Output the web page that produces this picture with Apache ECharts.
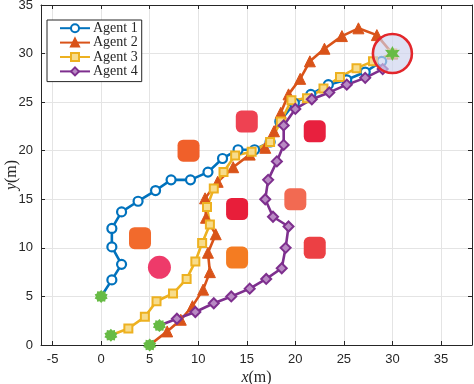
<!DOCTYPE html>
<html><head><meta charset="utf-8">
<script src="https://cdn.jsdelivr.net/npm/echarts@6/dist/echarts.min.js"></script>
<style>html,body{margin:0;padding:0;background:#fff}#c{width:474px;height:384px}</style>
</head><body><div id="c"></div>
<script>
// ---- data ----
const agent1X = [0, 1.1, 2.1, 1.1, 1.1, 2.1, 3.8, 5.6, 7.2, 9.2, 11.0, 12.5, 14.1, 15.8, 17.4, 18.4, 19.9, 21.6, 23.4, 25.3, 27.2, 28.9];
const agent1Y = [5, 6.7, 8.3, 10.1, 12.0, 13.7, 14.8, 15.9, 17.0, 17.0, 17.8, 19.2, 20.1, 20.1, 20.9, 23.0, 24.9, 25.8, 26.8, 27.3, 28.1, 29.2];
const agent2X = [5, 6.8, 8.2, 9.4, 10.5, 11.2, 11.0, 11.8, 10.8, 10.7, 12.0, 13.6, 15.3, 16.9, 17.8, 18.5, 19.3, 20.5, 21.5, 23.0, 24.8, 26.5, 28.4, 30];
const agent2Y = [0, 1.4, 2.6, 4.0, 5.7, 7.5, 9.5, 11.4, 13.1, 15.1, 16.8, 18.3, 19.6, 20.3, 22.0, 23.9, 25.8, 27.4, 29.2, 30.5, 31.8, 32.6, 31.9, 30];
const agent3X = [1, 2.8, 4.5, 5.7, 7.4, 8.8, 9.7, 10.4, 11.2, 10.9, 11.6, 12.6, 13.8, 15.5, 17.4, 18.5, 19.6, 21.2, 22.9, 24.6, 26.3, 28.0, 30];
const agent3Y = [1, 1.7, 2.9, 4.5, 5.3, 6.8, 8.6, 10.5, 12.4, 14.2, 16.1, 17.8, 19.5, 19.9, 20.9, 23.0, 25.2, 25.4, 26.4, 27.6, 28.5, 29.2, 30];
const agent4X = [6, 7.8, 9.7, 11.6, 13.4, 15.3, 17.0, 18.6, 19.0, 19.3, 17.7, 16.9, 17.2, 18.1, 18.8, 18.8, 20.0, 21.7, 23.5, 25.3, 27.2, 29.0];
const agent4Y = [2, 2.7, 3.4, 4.3, 5.0, 5.8, 6.8, 7.9, 10.0, 12.2, 13.2, 15.0, 17.0, 18.9, 20.6, 22.6, 24.3, 25.3, 26.0, 26.8, 27.5, 28.4];
const startX = [0, 5, 1, 6];
const startY = [5, 0, 1, 2];
const goalX = [30];
const goalY = [30];
const squareObsX = [4, 9, 15, 22, 14, 20, 14, 22];
const squareObsY = [11, 20, 23, 22, 14, 15, 9, 10];
const squareObsColors = ['#f26a2c', '#f0602a', '#ee4252', '#e8203e', '#e81e3a', '#f26a52', '#f47c22', '#ec4044'];
const circleObsX = [6];
const circleObsY = [8];
const circleObsColors = ['#ee3a6a'];
const xRange = [-6.2, 38.2];
const yRange = [0, 35];
const xTicks = [-5, 0, 5, 10, 15, 20, 25, 30, 35];
const yTicks = [0, 5, 10, 15, 20, 25, 30, 35];
const names = ['Agent 1', 'Agent 2', 'Agent 3', 'Agent 4'];

// ---- helpers ----
const zip = (xs, ys) => xs.map((x, i) => [x, ys[i]]);
function starPath(n, inner) {
  let d = '';
  for (let i = 0; i < 2 * n; i++) {
    const r = i % 2 ? inner : 1;
    const a = Math.PI * i / n - Math.PI / 2;
    d += (i ? 'L' : 'M') + (r * Math.cos(a) * 10).toFixed(2) + ',' + (r * Math.sin(a) * 10).toFixed(2);
  }
  return 'path://' + d + 'Z';
}
const gearSym = starPath(10, 0.78);
const goalSym = starPath(6, 0.5);

const dark = '#262626';
function agentSeries(name, xs, ys, color, symbol, size, fill, bw) {
  const data = zip(xs, ys).map((p, i) => i === 0 ? {value: p, symbol: 'none'} : p);
  return {
    type: 'line', name, data, z: 5,
    symbol, symbolSize: size,
    lineStyle: {color, width: 2.6},
    itemStyle: {color: fill, borderColor: color, borderWidth: bw, opacity: 1},
    emphasis: {disabled: true}, animation: false
  };
}

const chart = echarts.init(document.getElementById('c'));
const xAxisBase = {
  type: 'value', min: xRange[0], max: xRange[1],
  axisLine: {show: true, onZero: false, lineStyle: {color: dark, width: 1}},
  axisTick: {show: true, inside: true, length: 4, customValues: xTicks, lineStyle: {color: dark}},
  axisLabel: {customValues: xTicks, color: dark, fontSize: 13, fontFamily: 'Liberation Sans', margin: 8},
  splitLine: {show: true, lineStyle: {color: '#e4e4e4', width: 1}}
};
const yAxisBase = {
  type: 'value', min: yRange[0], max: yRange[1],
  axisLine: {show: true, onZero: false, lineStyle: {color: dark, width: 1}},
  axisTick: {show: true, inside: true, length: 4, customValues: yTicks, lineStyle: {color: dark}},
  axisLabel: {customValues: yTicks, color: dark, fontSize: 13, fontFamily: 'Liberation Sans', margin: 8},
  splitLine: {show: true, lineStyle: {color: '#e4e4e4', width: 1}}
};

chart.setOption({
  animation: false,
  grid: {left: 41, right: 2, top: 5, bottom: 39, containLabel: false, outerBoundsMode: 'none'},
  xAxis: [
    Object.assign({}, xAxisBase, {
      position: 'bottom',
      name: '{i|x}{n|(m)}', nameLocation: 'middle', nameGap: 25, nameMoveOverlap: false,
      nameTextStyle: {rich: {
        i: {fontFamily: 'Liberation Serif', fontStyle: 'italic', fontSize: 16, color: dark},
        n: {fontFamily: 'Liberation Serif', fontSize: 16, color: dark}
      }}
    }),
    Object.assign({}, xAxisBase, {position: 'top', axisLabel: {show: false, customValues: xTicks}, splitLine: {show: false}})
  ],
  yAxis: [
    Object.assign({}, yAxisBase, {
      position: 'left',
      name: '{i|y}{n|(m)}', nameLocation: 'middle', nameGap: 21, nameMoveOverlap: false,
      nameTextStyle: {rich: {
        i: {fontFamily: 'Liberation Serif', fontStyle: 'italic', fontSize: 16, color: dark},
        n: {fontFamily: 'Liberation Serif', fontSize: 16, color: dark}
      }}
    }),
    Object.assign({}, yAxisBase, {position: 'right', axisLabel: {show: false, customValues: yTicks}, splitLine: {show: false}})
  ],
  legend: {
    data: names, orient: 'vertical', left: 47, top: 20,
    padding: [1, 4, 3, 12], itemGap: 0, itemWidth: 30, itemHeight: 10,
    borderColor: dark, borderWidth: 1, backgroundColor: '#fff',
    textStyle: {fontFamily: 'Liberation Serif', fontSize: 14, lineHeight: 14.4, color: dark, padding: [0, 0, 0, -2]}
  },
  series: [
    {
      type: 'scatter', name: 'obsSq', z: 1, symbol: 'roundRect', symbolSize: 22,
      data: zip(squareObsX, squareObsY).map((p, i) => ({value: p, itemStyle: {color: squareObsColors[i], opacity: 1}})),
      emphasis: {disabled: true}
    },
    {
      type: 'scatter', name: 'obsCi', z: 1, symbol: 'circle', symbolSize: 23,
      data: zip(circleObsX, circleObsY).map((p, i) => ({value: p, itemStyle: {color: circleObsColors[i], opacity: 1}})),
      emphasis: {disabled: true}
    },
    agentSeries('Agent 1', agent1X, agent1Y, '#0072bd', 'circle', 9, '#ffffff', 2.2),
    agentSeries('Agent 2', agent2X, agent2Y, '#d95319', 'triangle', 11, '#d95319', 1),
    agentSeries('Agent 3', agent3X, agent3Y, '#edb120', 'rect', 8, '#f7dc8c', 2),
    agentSeries('Agent 4', agent4X, agent4Y, '#7e2f8e', 'diamond', 10, '#b98ac4', 2),
    {
      type: 'scatter', name: 'goalZone', z: 6, symbol: 'circle', symbolSize: 39,
      data: zip(goalX, goalY),
      itemStyle: {color: 'rgba(205,210,238,0.65)', borderColor: '#e3262b', borderWidth: 2.6, opacity: 1},
      emphasis: {disabled: true}
    },
    {
      type: 'scatter', name: 'starts', z: 7, symbol: gearSym, symbolSize: 13,
      data: zip(startX, startY), itemStyle: {color: '#67bb45', opacity: 1}, emphasis: {disabled: true}
    },
    {
      type: 'scatter', name: 'goal', z: 7, symbol: goalSym, symbolSize: 15,
      data: zip(goalX, goalY), itemStyle: {color: '#67bb45', opacity: 1}, emphasis: {disabled: true}
    }
  ]
});
</script></body></html>
